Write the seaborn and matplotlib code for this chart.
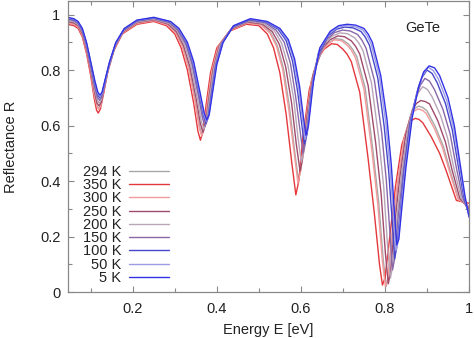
import matplotlib
matplotlib.use("Agg")
import matplotlib.pyplot as plt
import seaborn as sns
import pandas as pd
from matplotlib.ticker import MultipleLocator, FuncFormatter

sns.set_style("ticks")
plt.rcParams['font.family'] = ['Liberation Sans', 'DejaVu Sans']

labels = ["294 K", "350 K", "300 K", "250 K", "200 K", "150 K", "100 K", "50 K", "5 K"]
colors = ["#a8a8a8", "#e4383c", "#f29a9c", "#a04a6c", "#b8a6b8", "#8a68a8",
          "#4646cc", "#9c9ce6", "#3232e6"]

E_350 = [.045,.06,.07,.08,.09,.10,.108,.114,.118,.123,.13,.14,.155,.175,.21,.25,.28,.30,.315,.33,.345,.355,.361,.367,.375,.385,.40,.43,.47,.50,.52,.535,.55,.565,.578,.588,.595,.605,.62,.64,.655,.673,.687,.70,.71,.72,.74,.76,.775,.787,.794,.80,.81,.825,.84,.855,.863,.872,.881,.89,.91,.93,.945,.97,1.0]
R_350 = [.965,.96,.95,.92,.86,.78,.70,.655,.645,.66,.71,.79,.87,.93,.965,.975,.96,.93,.88,.80,.68,.58,.547,.58,.68,.79,.88,.94,.965,.96,.93,.88,.79,.64,.47,.35,.40,.56,.73,.84,.875,.895,.892,.875,.857,.83,.72,.48,.28,.10,.025,.05,.18,.38,.53,.60,.618,.626,.622,.61,.56,.50,.44,.33,.32]

E_300 = [.045,.06,.07,.08,.09,.10,.108,.115,.119,.124,.131,.141,.156,.176,.21,.25,.282,.302,.318,.333,.348,.358,.364,.370,.378,.388,.403,.432,.472,.504,.526,.542,.557,.571,.584,.593,.600,.610,.625,.646,.662,.680,.696,.710,.720,.730,.750,.769,.783,.794,.801,.807,.816,.830,.845,.860,.869,.879,.889,.898,.918,.937,.952,.974,1.0]
R_300 = [.970,.965,.955,.926,.868,.790,.712,.668,.658,.672,.722,.798,.876,.934,.968,.978,.963,.934,.884,.806,.688,.593,.562,.592,.688,.796,.884,.944,.969,.963,.934,.886,.800,.660,.502,.393,.440,.600,.760,.860,.892,.909,.906,.890,.872,.844,.732,.508,.316,.110,.020,.050,.204,.394,.550,.628,.652,.660,.655,.644,.588,.520,.442,.334,.310]

E_294 = [.045,.06,.07,.08,.09,.10,.109,.115,.119,.124,.131,.141,.156,.176,.21,.25,.283,.303,.319,.334,.349,.359,.365,.371,.379,.389,.404,.433,.473,.505,.528,.544,.559,.573,.585,.594,.601,.611,.626,.648,.664,.682,.698,.713,.723,.733,.753,.771,.785,.796,.803,.808,.818,.831,.846,.861,.870,.880,.890,.900,.920,.939,.954,.975,1.0]
R_294 = [.971,.966,.956,.928,.870,.793,.715,.671,.661,.675,.725,.800,.878,.935,.975,.988,.964,.935,.885,.808,.690,.596,.565,.595,.690,.798,.885,.945,.970,.964,.935,.888,.803,.665,.510,.404,.450,.610,.768,.865,.896,.913,.910,.894,.875,.848,.735,.515,.325,.115,.020,.055,.210,.398,.555,.635,.661,.670,.665,.653,.595,.525,.443,.335,.308]

E_250 = [.045,.06,.07,.08,.09,.10,.109,.115,.120,.125,.132,.142,.157,.177,.21,.25,.284,.304,.321,.336,.351,.361,.367,.373,.381,.391,.406,.434,.474,.508,.532,.549,.564,.578,.589,.598,.604,.615,.630,.652,.669,.688,.704,.720,.730,.740,.760,.778,.791,.801,.808,.813,.822,.835,.850,.865,.875,.885,.895,.906,.926,.944,.959,.978,1.0]
R_250 = [.975,.970,.960,.932,.876,.800,.724,.681,.671,.684,.734,.806,.882,.938,.971,.981,.966,.938,.888,.812,.696,.606,.576,.604,.696,.802,.888,.948,.973,.966,.938,.892,.810,.680,.534,.436,.480,.640,.790,.880,.909,.923,.920,.905,.886,.858,.744,.536,.352,.140,.030,.070,.228,.408,.570,.656,.680,.690,.687,.678,.616,.540,.444,.338,.300]

E_200 = [.045,.06,.07,.08,.09,.10,.109,.116,.120,.125,.133,.143,.158,.178,.21,.25,.286,.306,.323,.338,.353,.363,.369,.375,.383,.393,.408,.436,.476,.511,.537,.554,.569,.583,.593,.601,.608,.619,.634,.657,.674,.693,.711,.728,.738,.748,.768,.785,.797,.806,.813,.818,.827,.839,.854,.869,.879,.890,.901,.912,.932,.949,.964,.981,1.0]
R_200 = [.979,.974,.964,.937,.882,.808,.733,.691,.681,.693,.743,.812,.887,.941,.973,.983,.968,.941,.891,.817,.702,.616,.587,.613,.702,.807,.891,.951,.976,.968,.941,.897,.818,.695,.558,.468,.510,.670,.813,.895,.922,.934,.931,.916,.897,.869,.753,.557,.379,.170,.050,.090,.246,.419,.585,.677,.718,.740,.730,.704,.637,.555,.446,.341,.293]

E_150 = [.045,.06,.07,.08,.09,.10,.109,.116,.121,.126,.134,.144,.159,.179,.21,.25,.287,.307,.326,.341,.356,.366,.372,.378,.386,.396,.411,.437,.477,.514,.541,.560,.575,.587,.598,.605,.611,.623,.638,.661,.680,.699,.717,.735,.745,.755,.775,.792,.803,.812,.818,.823,.831,.843,.858,.873,.884,.895,.906,.918,.938,.955,.970,.984,1.0]
R_150 = [.983,.978,.968,.941,.888,.815,.742,.701,.691,.702,.752,.818,.891,.944,.976,.986,.971,.944,.894,.821,.708,.626,.598,.622,.708,.811,.894,.954,.979,.971,.944,.901,.825,.710,.582,.500,.540,.700,.835,.910,.935,.944,.941,.928,.908,.879,.762,.578,.406,.210,.080,.120,.264,.429,.600,.698,.745,.770,.760,.729,.658,.570,.447,.344,.285]

E_100 = [.045,.06,.07,.08,.09,.10,.110,.117,.121,.126,.134,.144,.159,.179,.21,.25,.289,.309,.328,.343,.358,.368,.374,.380,.388,.398,.413,.439,.479,.517,.546,.565,.580,.592,.602,.608,.615,.626,.641,.666,.685,.704,.724,.743,.753,.763,.783,.798,.809,.817,.823,.828,.836,.846,.861,.876,.888,.900,.912,.924,.944,.960,.975,.987,1.0]
R_100 = [.986,.981,.971,.946,.894,.823,.751,.710,.700,.711,.761,.824,.896,.947,.978,.988,.973,.947,.897,.826,.714,.635,.609,.631,.714,.816,.897,.957,.982,.973,.947,.906,.833,.725,.606,.533,.570,.730,.858,.925,.947,.955,.952,.939,.919,.890,.771,.599,.433,.260,.120,.160,.282,.440,.615,.719,.773,.800,.788,.755,.679,.585,.449,.347,.278]

E_50 = [.045,.06,.07,.08,.09,.10,.110,.117,.122,.127,.135,.145,.160,.180,.21,.25,.289,.309,.329,.344,.359,.369,.375,.381,.389,.399,.414,.439,.479,.519,.548,.568,.583,.595,.604,.610,.616,.628,.643,.668,.688,.707,.727,.747,.757,.767,.787,.802,.812,.820,.826,.831,.838,.848,.863,.878,.891,.903,.915,.927,.947,.963,.978,.989,1.0]
R_50 = [.988,.983,.973,.948,.897,.827,.756,.715,.705,.716,.766,.827,.898,.949,.979,.989,.974,.949,.899,.828,.717,.640,.615,.636,.717,.818,.899,.959,.984,.974,.949,.908,.837,.733,.619,.550,.586,.746,.870,.933,.954,.960,.957,.945,.925,.895,.776,.610,.447,.280,.150,.180,.292,.445,.623,.730,.785,.810,.798,.768,.690,.593,.449,.349,.274]

E_5 = [.045,.06,.07,.08,.09,.10,.11,.117,.122,.127,.135,.145,.16,.18,.21,.25,.29,.31,.33,.345,.36,.37,.376,.382,.39,.40,.415,.44,.48,.52,.55,.57,.585,.597,.606,.612,.618,.63,.645,.67,.69,.71,.73,.75,.76,.77,.79,.805,.815,.822,.828,.833,.84,.85,.865,.88,.892,.905,.918,.93,.95,.965,.98,.99,1.0]
R_5 = [.99,.985,.975,.95,.90,.83,.76,.72,.71,.72,.77,.83,.90,.95,.98,.99,.975,.95,.90,.83,.72,.645,.62,.64,.72,.82,.90,.96,.985,.975,.95,.91,.84,.74,.63,.565,.60,.76,.88,.94,.96,.965,.962,.95,.93,.90,.78,.62,.46,.30,.17,.19,.30,.45,.63,.74,.793,.815,.808,.78,.70,.60,.45,.35,.27]

energies = [E_294, E_350, E_300, E_250, E_200, E_150, E_100, E_50, E_5]
reflect = [R_294, R_350, R_300, R_250, R_200, R_150, R_100, R_50, R_5]

frames = []
for i, lab in enumerate(labels):
    frames.append(pd.DataFrame({"E": energies[i], "R": reflect[i], "T": lab}))
df = pd.concat(frames, ignore_index=True)

fig = plt.figure(figsize=(4.74, 3.38), dpi=100)
ax = fig.add_axes([0.1435, 0.136, 0.846, 0.862])

sns.lineplot(data=df, x="E", y="R", hue="T", hue_order=labels,
             palette=dict(zip(labels, colors)), sort=False, estimator=None,
             units="T", lw=1.0, ax=ax, legend=True)

ax.set_xlim(0.046, 1.0)
ax.set_ylim(0, 1.05)
ax.xaxis.set_major_locator(MultipleLocator(0.2))
ax.xaxis.set_minor_locator(MultipleLocator(0.1))
ax.yaxis.set_major_locator(MultipleLocator(0.2))
ax.yaxis.set_minor_locator(MultipleLocator(0.1))
fmt = FuncFormatter(lambda v, p: f"{v:g}")
ax.xaxis.set_major_formatter(fmt)
ax.yaxis.set_major_formatter(fmt)
ax.tick_params(which="both", direction="in", top=True, right=True,
               color="#888888", labelcolor="#222222", labelsize=10.5, width=0.8)
ax.tick_params(which="major", length=4.5)
ax.tick_params(which="minor", length=3)
ax.tick_params(axis="x", pad=7)
ax.tick_params(axis="y", pad=5.5)
for sp in ax.spines.values():
    sp.set_color("#888888")
    sp.set_linewidth(0.9)

ax.set_xlabel("Energy E [eV]", fontsize=10.5, color="#222222", labelpad=5)
ax.set_ylabel("Reflectance R", fontsize=10.5, color="#222222", labelpad=16)
ax.text(0.848, 0.95, "GeTe", fontsize=10.5, color="#222222", ha="left", va="center")

leg = ax.legend(loc="lower left", bbox_to_anchor=(0.037, 0.024), frameon=False,
                markerfirst=False, handlelength=2.75, handletextpad=0.55,
                labelspacing=-0.05, fontsize=10.5, borderpad=0, borderaxespad=0)
for t in leg.get_texts():
    t.set_color("#222222")

fig.savefig("out.png", dpi=100)
